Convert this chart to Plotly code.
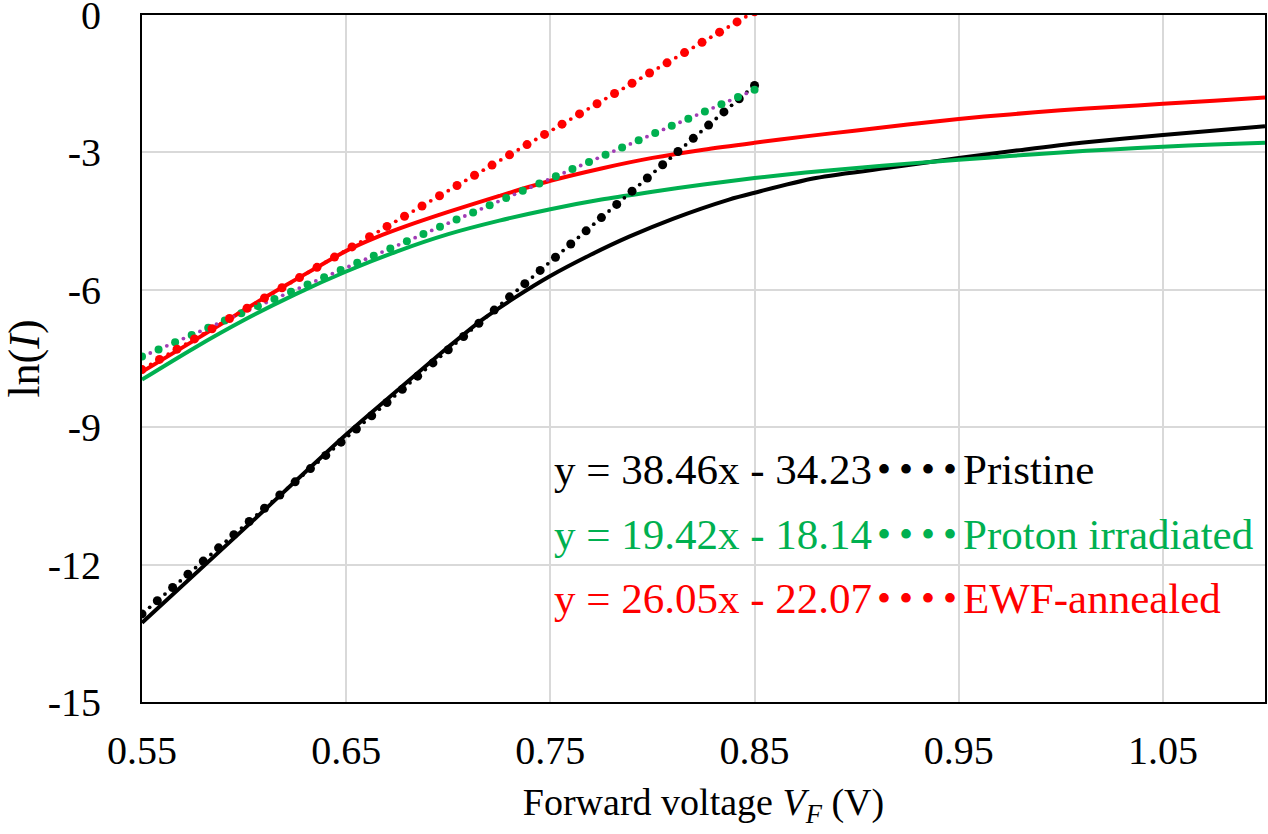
import numpy as np
import plotly.graph_objects as go

# ---------------- data ----------------
# Measured ln(I)-V curves
pristine_v = [0.55, 0.60, 0.65, 0.675, 0.70, 0.7167, 0.733, 0.7495, 0.77, 0.7886, 0.81,
              0.8375, 0.85, 0.88, 0.92, 0.95, 0.98, 1.01, 1.05, 1.10]
pristine_ln = [-13.27, -11.22, -9.16, -8.20, -7.25, -6.65, -6.16, -5.71, -5.23, -4.84, -4.45,
               -4.03, -3.88, -3.56, -3.31, -3.12, -2.95, -2.79, -2.62, -2.43]

proton_v = [0.55, 0.575, 0.60, 0.625, 0.65, 0.675, 0.70, 0.725, 0.75, 0.775, 0.80, 0.825,
            0.85, 0.875, 0.90, 0.925, 0.95, 0.975, 1.00, 1.025, 1.05, 1.075, 1.10]
proton_ln = [-7.96, -7.285, -6.66, -6.10, -5.60, -5.16, -4.785, -4.49, -4.24, -4.03, -3.86, -3.70,
             -3.56, -3.44, -3.34, -3.245, -3.16, -3.08, -3.00, -2.935, -2.875, -2.83, -2.79]

ewf_v = [0.55, 0.575, 0.60, 0.62, 0.635, 0.65, 0.665, 0.68, 0.70, 0.725, 0.75, 0.775,
         0.80, 0.825, 0.85, 0.875, 0.90, 0.925, 0.95, 0.975, 1.00, 1.025, 1.05, 1.075, 1.10]
ewf_ln = [-7.79, -7.12, -6.44, -5.91, -5.53, -5.15, -4.85, -4.60, -4.30, -3.95, -3.62, -3.35,
          -3.12, -2.94, -2.79, -2.65, -2.52, -2.39, -2.27, -2.17, -2.08, -2.01, -1.94, -1.87, -1.80]

# Linear fits (slope, intercept) and fit range
series_names = ["Pristine", "Proton irradiated", "EWF-annealed"]
fit_slopes = [38.46, 19.42, 26.05]
fit_intercepts = [-34.23, -18.14, -22.07]
fit_range = [0.55, 0.85]

x_ticks = [0.55, 0.65, 0.75, 0.85, 0.95, 1.05]
y_ticks = [0, -3, -6, -9, -12, -15]

# ---------------- style ----------------
FONT = "Liberation Serif, Times New Roman, serif"
colors = ["#000000", "#00b050", "#ff0000"]
small_dot_colors = ["#000000", "#a03cb4", "#ff0000"]
dot_counts = [41, 38, 36]
big_sizes = [9, 8, 9]

fig = go.Figure()

# measured curves
for v, ln, c in [(pristine_v, pristine_ln, colors[0]),
                 (proton_v, proton_ln, colors[1]),
                 (ewf_v, ewf_ln, colors[2])]:
    fig.add_trace(go.Scatter(x=v, y=ln, mode="lines",
                             line=dict(color=c, width=4, shape="spline", smoothing=0.8),
                             showlegend=False, hoverinfo="skip"))

# fitted lines, drawn as round-dot pattern (big dot / small dot)
for i in range(3):
    xb = np.linspace(fit_range[0], fit_range[1], dot_counts[i])
    step = xb[1] - xb[0]
    xs = xb[:-1] + step / 2
    yb = fit_slopes[i] * xb + fit_intercepts[i]
    ys = fit_slopes[i] * xs + fit_intercepts[i]
    fig.add_trace(go.Scatter(x=xs, y=ys, mode="markers",
                             marker=dict(color=small_dot_colors[i], size=3.8),
                             showlegend=False, hoverinfo="skip"))
    fig.add_trace(go.Scatter(x=xb, y=yb, mode="markers",
                             marker=dict(color=colors[i], size=big_sizes[i]),
                             showlegend=False, hoverinfo="skip"))

# legend-like text rows (equation, dots, name)
row_y = [-9.93, -11.35, -12.73]
for i in range(3):
    sign = "-" if fit_intercepts[i] < 0 else "+"
    eq = f"y = {fit_slopes[i]:.2f}x {sign} {abs(fit_intercepts[i]):.2f}"
    fig.add_annotation(x=0.9084, y=row_y[i], xref="x", yref="y", text=eq,
                       showarrow=False, xanchor="right", yanchor="middle",
                       font=dict(family=FONT, size=43, color=colors[i]))
    fig.add_annotation(x=0.9295, y=row_y[i], xref="x", yref="y",
                       text="\u2022\u2009\u2022\u2009\u2022\u2009\u2022",
                       showarrow=False, xanchor="center", yanchor="middle",
                       font=dict(family=FONT, size=40, color=colors[i]))
    fig.add_annotation(x=0.951, y=row_y[i], xref="x", yref="y", text=series_names[i],
                       showarrow=False, xanchor="left", yanchor="middle",
                       font=dict(family=FONT, size=43, color=colors[i]))

axis_common = dict(showline=True, linecolor="black", linewidth=2, mirror=True,
                   showgrid=True, gridcolor="#d9d9d9", gridwidth=1.5,
                   zeroline=False, ticks="", ticklabeloverflow="allow",
                   automargin=False,
                   tickfont=dict(family=FONT, size=40, color="black"))

fig.update_xaxes(range=[0.55, 1.1], tickvals=x_ticks,
                 ticktext=[f"{t:.2f}" for t in x_ticks],
                 ticklabelstandoff=12,
                 title=dict(text="Forward voltage <i>V<sub>F</sub></i> (V)",
                            font=dict(family=FONT, size=38, color="black"), standoff=16),
                 **axis_common)
fig.update_yaxes(range=[-15, 0], tickvals=y_ticks,
                 ticktext=[str(t) for t in y_ticks],
                 ticklabelstandoff=31,
                 title=dict(text="ln(<i>I</i>)",
                            font=dict(family=FONT, size=44, color="black"), standoff=10),
                 **axis_common)

fig.update_layout(width=1268, height=834,
                  margin=dict(l=142, r=3, t=15, b=132),
                  paper_bgcolor="white", plot_bgcolor="white",
                  showlegend=False)

fig.write_html("out.html")
